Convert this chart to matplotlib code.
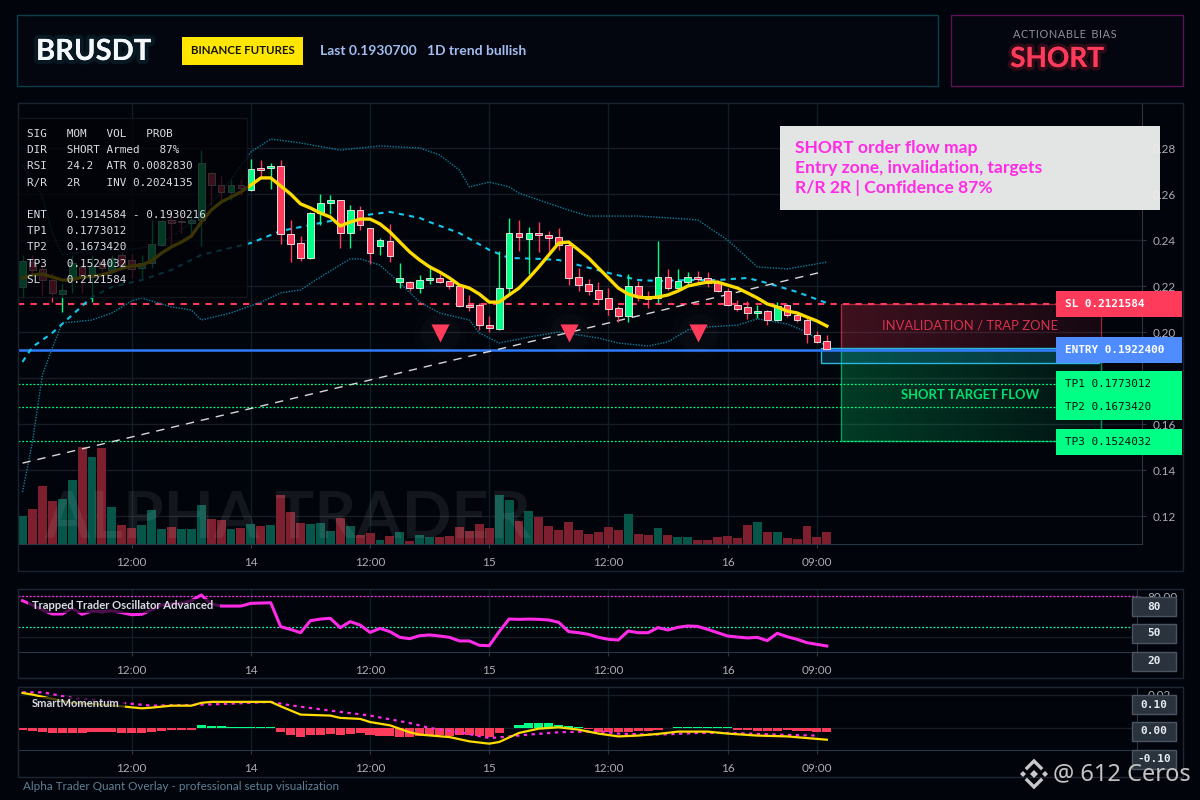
import matplotlib
matplotlib.use("Agg")
import matplotlib.pyplot as plt
import matplotlib.patheffects as pe
from matplotlib.patches import Rectangle, Polygon
import numpy as np

# PRICE DATA (one entry per bar)
opens = [.2196, .2304, .2274, .2226, .2165, .2235, .2283, .2239, .2304, .2270, .2335, .2313, .2278, .2300, .2378, .2487, .2483, .2474, .2487, .2691,
         .2639, .2609, .2639, .2617, .2713, .2713, .2722, .2426, .2387, .2322, .2517, .2561, .2574, .2430, .2530, .2452, .2374, .2396, .2217, .2217,
         .2191, .2226, .2235, .2222, .2200, .2117, .2117, .2030, .2013, .2191, .2430, .2404, .2430, .2422, .2413, .2378, .2239, .2209, .2183, .2148,
         .2104, .2070, .2200, .2157, .2148, .2239, .2191, .2217, .2239, .2235, .2213, .2178, .2117, .2109, .2083, .2091, .2052, .2117, .2074, .2052,
         .1987, .1961]
highs = [.2335, .2335, .2300, .2257, .2213, .2335, .2304, .2335, .2322, .2335, .2348, .2339, .2335, .2487, .2487, .2509, .2517, .2509, .2791, .2696,
         .2678, .2661, .2665, .2752, .2748, .2735, .2748, .2487, .2417, .2522, .2600, .2596, .2574, .2552, .2548, .2452, .2409, .2470, .2300, .2222,
         .2248, .2291, .2252, .2222, .2204, .2161, .2126, .2070, .2352, .2496, .2487, .2457, .2478, .2439, .2452, .2387, .2278, .2230, .2217, .2191,
         .2113, .2252, .2222, .2178, .2396, .2274, .2274, .2261, .2265, .2261, .2226, .2191, .2139, .2135, .2117, .2096, .2130, .2122, .2087, .2061,
         .2004, .1987]
lows = [.2152, .2248, .2161, .2130, .2087, .2170, .2170, .2130, .2226, .2257, .2270, .2235, .2235, .2278, .2374, .2370, .2430, .2430, .2374, .2552,
        .2561, .2574, .2596, .2613, .2670, .2622, .2383, .2304, .2309, .2318, .2465, .2513, .2365, .2365, .2443, .2296, .2335, .2304, .2191, .2178,
        .2170, .2209, .2213, .2187, .2109, .2091, .2009, .2000, .2009, .2165, .2352, .2252, .2348, .2352, .2357, .2204, .2178, .2161, .2126, .2074,
        .2043, .2043, .2135, .2104, .2126, .2183, .2183, .2204, .2213, .2196, .2174, .2113, .2091, .2057, .2061, .2030, .2048, .2065, .2043, .1952,
        .1952, .1922]
closes = [.2309, .2270, .2226, .2170, .2183, .2300, .2239, .2287, .2278, .2322, .2291, .2274, .2300, .2383, .2483, .2474, .2478, .2487, .2735, .2639,
          .2609, .2639, .2626, .2709, .2704, .2722, .2426, .2383, .2322, .2517, .2561, .2574, .2430, .2530, .2465, .2343, .2400, .2331, .2235, .2191,
          .2226, .2235, .2217, .2200, .2113, .2109, .2030, .2017, .2191, .2430, .2413, .2430, .2422, .2409, .2378, .2235, .2204, .2178, .2143, .2100,
          .2070, .2200, .2152, .2143, .2239, .2191, .2222, .2239, .2230, .2213, .2178, .2117, .2100, .2083, .2091, .2052, .2113, .2074, .2052, .1991,
          .1957, .1926]
volumes = [28, 35, 58, 43, 45, 64, 97, 87, 96, 37, 19, 16, 19, 34, 15, 17, 15, 15, 39, 25,
           24, 15, 16, 20, 18, 19, 49, 32, 21, 20, 21, 13, 26, 18, 9, 11, 4, 8, 12, 3,
           9, 7, 7, 8, 17, 13, 20, 16, 49, 44, 23, 33, 27, 18, 14, 22, 14, 10, 12, 17,
           14, 30, 10, 9, 16, 9, 7, 7, 4, 4, 7, 8, 6, 19, 22, 12, 12, 6, 5, 18,
           7, 12]
vol_green = [0, 4, 5, 7, 9, 12, 13, 14, 16, 17, 18, 21, 23, 25, 29, 30, 31, 33, 36, 38, 40, 41, 48, 49, 51, 61, 64, 66, 67, 74, 76]

# overlays on the price pane
ema = [.2235, .2248, .2252, .2239, .2226, .2226, .2239, .2243, .2248, .2261, .2278, .2287, .2291, .2309, .2343, .2370, .2391, .2417, .2478, .2530,
       .2565, .2587, .2609, .2639, .2670, .2670, .2635, .2600, .2557, .2539, .2517, .2500, .2461, .2478, .2491, .2491, .2470, .2435, .2391, .2348,
       .2313, .2283, .2261, .2235, .2204, .2191, .2165, .2130, .2130, .2161, .2191, .2235, .2283, .2335, .2387, .2391, .2357, .2322, .2278, .2235,
       .2191, .2165, .2152, .2148, .2152, .2161, .2178, .2200, .2209, .2217, .2217, .2204, .2191, .2170, .2148, .2122, .2109, .2091, .2083, .2065,
       .2048, .2026]
mid_idx = [0, 1, 3, 4, 7, 9, 12, 15, 18, 23, 26, 30, 33, 37, 40, 41, 44, 47, 49, 52, 54, 56, 59, 62, 64, 67, 70, 73, 75, 78, 81]
mid_band = [.1870, .1935, .1996, .2035, .2152, .2196, .2226, .2270, .2335, .2387, .2439, .2474, .2500, .2522, .2496, .2478, .2430, .2357, .2322, .2318,
            .2313, .2291, .2257, .2226, .2222, .2226, .2226, .2235, .2213, .2174, .2126]
upper_idx = [0, 1, 2, 3, 4, 7, 10, 12, 14, 17, 20, 23, 25, 28, 32, 36, 40, 42, 44, 45, 47, 49, 50, 52, 55, 57, 62, 67, 68, 71, 74, 77, 81]
upper_band = [.2726, .2661, .2587, .2430, .2335, .2357, .2357, .2365, .2387, .2474, .2604, .2783, .2839, .2822, .2791, .2809, .2800, .2770, .2704, .2631,
              .2652, .2631, .2604, .2574, .2530, .2504, .2504, .2491, .2487, .2400, .2283, .2274, .2304]
lower_idx = [0, 1, 2, 3, 4, 7, 9, 11, 12, 15, 17, 18, 21, 24, 26, 28, 30, 33, 34, 36, 38, 40, 42, 45, 46, 48, 51, 54, 58, 60, 63, 65, 67, 69, 72, 74, 77, 79, 81]
lower_band = [.1304, .1522, .1813, .1930, .2039, .2052, .2083, .2135, .2148, .2109, .2096, .2052, .2083, .2130, .2170, .2183, .2239, .2318, .2318, .2291,
              .2213, .2130, .2083, .2052, .1996, .1952, .1978, .2000, .1974, .1952, .1939, .1957, .2009, .2022, .2030, .2057, .2035, .2000, .1935]
trend_idx = [0, 80.5]
trend_price = [.1430, .2261]
signal_idx = [42, 55, 68]
signal_price = [.1996, .1996, .1996]

# trade levels
sl = 0.2121584
entry = 0.1922400
entry_zone = [0.1866, 0.1930216]
tps = [0.1773012, 0.1673420, 0.1524032]

# oscillator
osc = [75.5, 71.3, 66.5, 62.6, 62.6, 68.1, 62.3, 65.5, 64.8, 65.8, 63.9, 61.9, 62.3, 66.5, 71.3, 72.3, 72.9, 75.5, 81.0, 72.3,
       70.3, 70.3, 70.3, 72.9, 73.2, 73.5, 50.3, 47.7, 44.5, 56.1, 57.7, 58.4, 49.4, 55.2, 51.9, 44.8, 48.7, 45.5, 40.0, 38.7,
       41.6, 42.3, 41.3, 40.0, 36.5, 36.5, 32.3, 31.9, 45.5, 57.7, 57.4, 57.7, 57.4, 56.8, 54.5, 45.5, 44.5, 42.9, 40.0, 38.1,
       37.4, 46.1, 44.5, 44.5, 49.4, 47.1, 49.7, 51.0, 50.6, 47.7, 44.5, 41.3, 40.3, 39.4, 40.0, 36.8, 43.9, 40.6, 38.1, 34.8,
       33.2, 31.6]

# momentum
hist = [-.0010, -.0016, -.0022, -.0028, -.0032, -.0032, -.0032, -.0026, -.0026, -.0026, -.0028, -.0028, -.0028, -.0022, -.0016, -.0010, -.0010, -.0010, .0016, .0014,
        .0014, .0008, .0008, .0008, .0008, .0004, -.0022, -.0040, -.0053, -.0044, -.0042, -.0034, -.0040, -.0034, -.0032, -.0044, -.0046, -.0046, -.0055, -.0057,
        -.0046, -.0042, -.0044, -.0046, -.0042, -.0044, -.0051, -.0055, -.0028, .0002, .0016, .0028, .0032, .0032, .0020, .0014, .0008, -.0006, -.0022, -.0026,
        -.0026, -.0022, -.0020, -.0016, -.0012, .0002, .0004, .0008, .0008, .0008, .0008, .0004, -.0010, -.0010, -.0016, -.0016, -.0016, -.0012, -.0016, -.0016,
        -.0022, -.0022]
mom_idx = [0, 1, 3, 5, 8, 10, 12, 13, 15, 17, 18, 19, 22, 25, 26, 28, 31, 32, 34, 35, 37, 39, 40, 43, 45, 47, 48, 50, 52, 54, 56, 58, 60, 62, 64, 66, 69, 71, 74, 77, 81]
mom_line = [.0212, .0202, .0176, .0152, .0141, .0131, .0119, .0123, .0135, .0135, .0152, .0158, .0158, .0158, .0131, .0081, .0075, .0061, .0055, .0036,
            .0016, -.0026, -.0040, -.0055, -.0081, -.0095, -.0085, -.0030, -.0004, .0004, -.0010, -.0034, -.0051, -.0046, -.0036, -.0022, -.0022, -.0034, -.0046, -.0051, -.0071]
sig_idx = [0, 2, 5, 9, 10, 13, 17, 21, 25, 27, 31, 35, 39, 41, 44, 47, 48, 51, 54, 58, 60, 63, 65, 68, 71, 74, 77, 80]
sig_line = [.0216, .0216, .0182, .0162, .0152, .0135, .0139, .0147, .0158, .0137, .0105, .0075, .0030, .0000, -.0026, -.0061, -.0057, -.0040, -.0026, -.0020,
            -.0034, -.0040, -.0038, -.0030, -.0030, -.0036, -.0042, -.0046]

tick_idx = [11, 23, 35, 47, 59, 71, 80]
tick_txt = ["12:00", "14", "12:00", "15", "12:00", "16", "09:00"]
price_ticks = [0.12, 0.14, 0.16, 0.18, 0.20, 0.22, 0.24, 0.26, 0.28]

table_rows = ["SIG   MOM   VOL   PROB", "DIR   SHORT Armed   87%", "RSI   24.2  ATR 0.0082830", "R/R   2R    INV 0.2024135", "",
              "ENT   0.1914584 - 0.1930216", "TP1   0.1773012", "TP2   0.1673420", "TP3   0.1524032", "SL    0.2121584"]
table_y = [134, 150, 166, 183, 199, 215, 231, 247, 264, 280]

# COLORS
BG = "#02040b"
RED = "#ff3b5c"
GREEN = "#00ff85"
BLUE = "#2f7bff"
YELLOW = "#ffdc00"
CYAN = "#14c8f0"
MAGENTA = "#ff2be6"
GRID = "#171d26"
VGRID = "#0e1e28"
SPINE = "#2b3744"
TXT = "#a8adb5"
UI = "Lato"
MONO = "DejaVu Sans Mono"

W, H = 1200, 800
X0, STEP = 22.5, 9.93   # pixel of first bar, pixels per bar

fig = plt.figure(figsize=(12, 8), dpi=100, facecolor=BG)


def pane(left, top, right, bottom):
    ax = fig.add_axes([left / W, 1 - bottom / H, (right - left) / W, (bottom - top) / H], facecolor=BG)
    ax.set_xlim((left - X0) / STEP, (right - X0) / STEP)
    for s in ["top", "left"]:
        ax.spines[s].set_visible(False)
    ax.spines["bottom"].set_color(SPINE)
    ax.spines["right"].set_color(SPINE)
    ax.yaxis.tick_right()
    ax.set_xticks(tick_idx)
    ax.set_xticklabels(tick_txt, fontsize=8.5, color=TXT, family=UI)
    ax.tick_params(axis="x", length=3, color=SPINE, pad=6)
    ax.tick_params(axis="y", length=3, color=SPINE, pad=5, labelcolor=TXT, labelsize=8.5)
    ax.grid(True, axis="x", color=VGRID, lw=1)
    ax.grid(True, axis="y", color=GRID, lw=1)
    ax.set_axisbelow(True)
    return ax


idx = np.arange(len(closes))
opens, highs, lows, closes = map(np.array, (opens, highs, lows, closes))

# ----------------------------------------------------------------------------
# MAIN PANE
ax = pane(18, 103, 1142, 544)
ymin, ymax = .34435 - 544 / 2300, .34435 - 103 / 2300
ax.set_ylim(ymin, ymax)
ax.set_yticks(price_ticks)
ax.set_yticklabels([f"{p:.2f}" for p in price_ticks], family=UI)

# volume sits on the pane floor, scaled into price units
vol_colors = ["#07564a" if i in vol_green else "#7d1f2e" for i in idx]
ax.bar(idx, np.array(volumes) / 2300, bottom=ymin, width=0.9, color=vol_colors, zorder=1)

# trade zones, fading to the right
zone_x = [82.4, 108.6]
for low, high, col, a0, a1 in [(entry, sl, RED, .24, .08), (tps[2], entry, GREEN, .22, .06)]:
    grad = np.zeros((1, 100, 4))
    grad[..., :3] = matplotlib.colors.to_rgb(col)
    grad[..., 3] = np.linspace(a0, a1, 100)
    ax.imshow(grad, extent=[zone_x[0], zone_x[1], low, high], aspect="auto", zorder=2)
    ax.add_patch(Rectangle((zone_x[0], low), zone_x[1] - zone_x[0], high - low, fill=False, ec=col, alpha=.55, lw=1, zorder=3))
ax.add_patch(Rectangle((80.4, entry_zone[0]), 28, entry_zone[1] - entry_zone[0], fc="#14a0c8", alpha=.25, zorder=3))
ax.add_patch(Rectangle((80.4, entry_zone[0]), 28, entry_zone[1] - entry_zone[0], fill=False, ec="#2bb8dc", lw=1, zorder=3))

# levels
ax.axhline(sl, color=RED, lw=1.5, dashes=(3, 3), zorder=4)
ax.axhline(entry, color=BLUE, lw=1.8, zorder=4)
for tp in tps:
    ax.axhline(tp, color=GREEN, lw=0.9, dashes=(1.5, 1.5), zorder=4)

# bands and trend
ax.plot(upper_idx, upper_band, color="#0e7c98", lw=1, ls=(0, (1, 1)), zorder=4)
ax.plot(lower_idx, lower_band, color="#0e7c98", lw=1, ls=(0, (1, 1)), zorder=4)
ax.plot(mid_idx, mid_band, color=CYAN, lw=1.5, ls=(0, (2.5, 2.5)), zorder=4)
ax.plot(trend_idx, trend_price, color="#d8d8d8", lw=1, ls=(0, (6, 5)), zorder=4)

# candles
up = closes >= opens
body_low = np.minimum(opens, closes)
body_h = np.abs(closes - opens)
wick_cols = [GREEN if u else RED for u in up]
ax.vlines(idx, lows, highs, colors=wick_cols, lw=1, zorder=5)
ax.bar(idx, body_h, bottom=body_low, width=0.68, color=wick_cols, edgecolor="#f2f2f2", linewidth=0.6, zorder=6)

ax.plot(idx, ema, color=YELLOW, lw=2.4, zorder=7, solid_joinstyle="round")

# signal markers with a soft halo
ax.scatter(signal_idx, signal_price, s=1500, color="white", alpha=.012, lw=0, zorder=7)
ax.scatter(signal_idx, signal_price, s=800, color="white", alpha=.02, lw=0, zorder=7)
ax.scatter(signal_idx, signal_price, s=170, marker="v", color=RED, lw=0, zorder=8)

ax.set_xlim((18 - X0) / STEP, (1142 - X0) / STEP)
ax.set_ylim(ymin, ymax)

# ----------------------------------------------------------------------------
# OSCILLATOR PANE
ax2 = pane(18, 589, 1136.5, 652)
ax2.set_ylim(25.8, 86.8)
ax2.set_yticks([40, 80])
ax2.set_yticklabels(["40.00", "80.00"], family=UI)
ax2.axhline(80, color=MAGENTA, lw=0.9, ls=(0, (1.5, 1.5)))
ax2.axhline(50, color="#1dffb0", lw=0.9, ls=(0, (1.5, 1.5)))
ax2.plot(idx, osc, color=MAGENTA, lw=2.2)

# ----------------------------------------------------------------------------
# MOMENTUM PANE
ax3 = pane(18, 687, 1136.5, 750)
ax3.set_ylim(-0.01333, 0.0248)
ax3.set_yticks([0, 0.02])
ax3.set_yticklabels(["0.00", "0.02"], family=UI)
ax3.bar(idx, hist, width=0.92, color=[GREEN if v > 0 else RED for v in hist], zorder=3)
ax3.plot(sig_idx, sig_line, color=MAGENTA, lw=1.6, ls=(0, (1.5, 2)), zorder=4)
ax3.plot(mom_idx, mom_line, color=YELLOW, lw=1.6, zorder=5)

# ----------------------------------------------------------------------------
# OVERLAY IN PIXEL COORDINATES (header, labels, boxes)
ov = fig.add_axes([0, 0, 1, 1], facecolor="none", zorder=10)
ov.set_xlim(0, W)
ov.set_ylim(H, 0)
ov.axis("off")


def box(x0, y0, x1, y1, **kw):
    ov.add_patch(Rectangle((x0, y0), x1 - x0, y1 - y0, **kw))


def label(x, y, s, **kw):
    kw.setdefault("va", "center")
    kw.setdefault("family", UI)
    return ov.text(x, y, s, **kw)


# panel frames
box(18, 103, 1183, 571, fill=False, ec="#1a2430", lw=1)
box(18, 589, 1183, 678, fill=False, ec="#1c2733", lw=1)
box(18, 687, 1183, 777, fill=False, ec="#1c2733", lw=1)

# header
box(17, 15, 938, 86, fc="#03060e", ec="#0c3f4c", lw=1)
box(951, 15, 1183, 86, fc="#03060e", ec="#5e1058", lw=1)
label(36, 52, "BRUSDT", fontsize=21, fontweight="bold", color="#f4f7fb",
      path_effects=[pe.withStroke(linewidth=6, foreground="#0b2a38", alpha=.5), pe.Normal()])
box(182, 37, 303, 65, fc="#ffe600", ec="none")
label(242.5, 51, "BINANCE FUTURES", fontsize=8.3, color="#15130a", ha="center", fontweight="bold")
label(320, 51, "Last 0.1930700", fontsize=10, color="#a3bdf0", fontweight="bold")
label(427, 51, "1D trend bullish", fontsize=10, color="#a3bdf0", fontweight="bold")
label(1065, 34, "\u200a".join("ACTIONABLE") + "  " + "\u200a".join("BIAS"), fontsize=7.8, color="#8b9099", ha="center")
label(1057, 59, "SHORT", fontsize=20, color=RED, ha="center", fontweight="bold",
      path_effects=[pe.withStroke(linewidth=5, foreground="#5a1020", alpha=.5), pe.Normal()])

# stats table on top of the chart
box(18, 118, 247, 297, fc="#020308", ec="#141820", lw=1, alpha=.78)
for row, y in zip(table_rows, table_y):
    label(27, y, row, fontsize=7.9, family=MONO, color="#d9dde5")

# info card
box(780, 126, 1160, 210, fc="#f1f1f1", ec="none", alpha=.95)
for s, y in zip(["SHORT order flow map", "Entry zone, invalidation, targets", "R/R 2R | Confidence 87%"], [148, 168, 188]):
    label(795, y, s, fontsize=12.6, color=MAGENTA, fontweight="bold")

# zone captions
label(970, 326, "INVALIDATION / TRAP ZONE", fontsize=9.4, color="#d8324f", ha="center")
label(970, 395, "SHORT TARGET FLOW", fontsize=9.4, color="#00e070", ha="center", fontweight="bold")

# level tags
tag_kw = dict(fontsize=7.9, family=MONO, fontweight="bold")
box(1056, 291, 1182, 317, fc=RED, ec="none")
label(1065, 304, "SL 0.2121584", color="white", **tag_kw)
box(1056, 337, 1182, 363, fc="#4f8cff", ec="none")
label(1065, 350, "ENTRY 0.1922400", color="white", **tag_kw)
box(1056, 371, 1182, 420, fc=GREEN, ec="none")
box(1056, 429, 1182, 455, fc=GREEN, ec="none")
tag_kw["fontweight"] = "normal"
for s, y in [("TP1 0.1773012", 384), ("TP2 0.1673420", 407), ("TP3 0.1524032", 442)]:
    label(1065, y, s, color="#04140d", **tag_kw)

# big watermark
label(288, 519, "ALPHA TRADER", fontsize=47, fontweight="bold", color="white", alpha=.075, ha="center")

# pane captions
box(28, 599, 220, 613, fc=BG, ec="none", alpha=.7)
label(32, 605.5, "Trapped Trader Oscillator Advanced", fontsize=8.15, color="#d8dce2", fontweight="bold")
box(28, 697, 125, 711, fc=BG, ec="none", alpha=.7)
label(32, 703.5, "SmartMomentum", fontsize=8, color="#d8dce2", fontweight="bold")

# value chips
for y0, y1, s in [(597, 616, "80"), (624, 643, "50"), (652, 671, "20"), (695, 714, "0.10"), (722, 741, "0.00"), (750, 769, "-0.10")]:
    box(1132, y0, 1176, y1, fc="#2a323d", ec="#4a5563", lw=1)
    label(1154, (y0 + y1) / 2, s, fontsize=8, family=MONO, color="#e6ebf0", ha="center", fontweight="bold")

# footer
label(23, 787, "Alpha Trader Quant Overlay - professional setup visualization", fontsize=8.4, color="#5f8096")

# repost mark, bottom right
cx, cy = 1034, 774
logo = "#c9c9c9"
for dx, dy, r in [(0, 0, 4), (-11, 0, 3), (11, 0, 3)]:
    ov.add_patch(Polygon([(cx + dx - r, cy + dy), (cx + dx, cy + dy - r), (cx + dx + r, cy + dy), (cx + dx, cy + dy + r)], fc=logo, ec="none"))
ov.plot([cx - 7, cx, cx + 7], [cy - 6, cy - 13, cy - 6], color=logo, lw=2.4, solid_joinstyle="miter")
ov.plot([cx - 7, cx, cx + 7], [cy + 6, cy + 13, cy + 6], color=logo, lw=2.4, solid_joinstyle="miter")
label(1053, 774, "@ 612 Ceros", fontsize=17, family="Noto Sans", color="#c4c4c4")

fig.savefig("out.png", dpi=100, facecolor=BG)
